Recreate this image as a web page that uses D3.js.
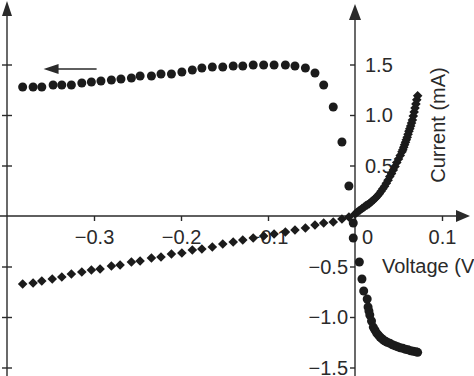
<!DOCTYPE html>
<meta charset="utf-8">
<style>
  body { margin: 0; background: #fff; }
  svg { display: block; font-family: "Liberation Sans", Arial, sans-serif; }
</style>
<div id="container"></div>
<script src="https://cdn.jsdelivr.net/npm/d3@7"></script>
<script>

// circles: voltage (V) and current (mA)
const dotV = [-0.382, -0.370, -0.360, -0.347, -0.337, -0.326, -0.314, -0.303, -0.292, -0.280,
              -0.269, -0.257, -0.247, -0.234, -0.223, -0.211, -0.199, -0.187, -0.176, -0.164,
              -0.152, -0.140, -0.129, -0.117, -0.105, -0.093, -0.080, -0.069, -0.057, -0.046,
              -0.036, -0.025, -0.015, -0.007, -0.002, -0.002, 0.005, 0.008, 0.010, 0.014,
              0.015, 0.016, 0.017, 0.019, 0.021, 0.023, 0.025, 0.027, 0.029, 0.031,
              0.033, 0.035, 0.037, 0.040, 0.043, 0.046, 0.049, 0.052, 0.055, 0.058,
              0.061, 0.064, 0.067, 0.070, 0.072];
const dotI = [1.277, 1.277, 1.277, 1.297, 1.297, 1.297, 1.317, 1.327, 1.337, 1.347,
              1.356, 1.366, 1.386, 1.386, 1.406, 1.406, 1.426, 1.446, 1.465, 1.475,
              1.475, 1.485, 1.485, 1.495, 1.495, 1.495, 1.495, 1.485, 1.465, 1.416,
              1.297, 1.079, 0.733, 0.297, -0.069, -0.218, -0.455, -0.624, -0.743, -0.822,
              -0.90, -0.94, -0.98, -1.04, -1.10, -1.13, -1.16, -1.18, -1.20, -1.215,
              -1.23, -1.24, -1.25, -1.26, -1.275, -1.285, -1.295, -1.305, -1.31, -1.32,
              -1.325, -1.335, -1.34, -1.345, -1.35];

// diamonds
const diaV = [-0.382, -0.370, -0.360, -0.348, -0.337, -0.326, -0.314, -0.303, -0.293, -0.280,
              -0.270, -0.257, -0.247, -0.234, -0.223, -0.211, -0.199, -0.187, -0.176, -0.164,
              -0.152, -0.140, -0.129, -0.117, -0.105, -0.093, -0.080, -0.069, -0.057, -0.046,
              -0.036, -0.025, -0.015, -0.007,
              0.000, 0.002, 0.004, 0.006, 0.008, 0.010, 0.012, 0.014, 0.016, 0.018,
              0.020, 0.022, 0.024, 0.026, 0.028, 0.030, 0.032, 0.034, 0.036, 0.038,
              0.040, 0.042, 0.044, 0.046, 0.048, 0.050, 0.052, 0.054, 0.055, 0.056, 0.057, 0.058,
              0.059, 0.060, 0.061, 0.062, 0.063, 0.064, 0.065, 0.066, 0.067, 0.068, 0.069, 0.070, 0.071, 0.072];
const diaI = [-0.673, -0.663, -0.644, -0.624, -0.604, -0.574, -0.554, -0.535, -0.525, -0.495,
              -0.485, -0.455, -0.446, -0.416, -0.406, -0.376, -0.366, -0.337, -0.327, -0.307,
              -0.277, -0.257, -0.238, -0.218, -0.198, -0.178, -0.158, -0.139, -0.119, -0.089,
              -0.069, -0.059, -0.030, -0.010,
              0.02, 0.035, 0.05, 0.06, 0.075, 0.085, 0.10, 0.11, 0.12, 0.135,
              0.15, 0.165, 0.18, 0.20, 0.22, 0.245, 0.27, 0.295, 0.325, 0.355,
              0.39, 0.42, 0.455, 0.49, 0.53, 0.565, 0.60, 0.635, 0.655, 0.68, 0.705, 0.73,
              0.755, 0.78, 0.81, 0.84, 0.865, 0.89, 0.92, 0.95, 0.99, 1.03, 1.07, 1.11, 1.15, 1.19];

const xTicks = [-0.3, -0.2, -0.1, 0, 0.1];
const yTicks = [-1.5, -1.0, -0.5, 0.5, 1.0, 1.5];

const width = 474, height = 376;
const ink = '#2a2a2a', markInk = '#1b1b1b';
const fs = 20;

const x = d3.scaleLinear().domain([-0.4, 0.1]).range([7, 442]);
const y = d3.scaleLinear().domain([-1.5, 1.5]).range([367.5, 64.5]);
const x0 = x(0), y0 = y(0), xl = x(-0.4);

const fmt = d => d === 0 ? '0' : (d < 0 ? '\u2212' : '') + d3.format('.1f')(Math.abs(d));

const svg = d3.create('svg')
    .attr('width', width)
    .attr('height', height);

// axis lines + arrow heads
const axes = svg.append('g').attr('stroke', ink).attr('stroke-width', 1.4).attr('fill', 'none');
axes.append('line').attr('x1', 0).attr('x2', 458).attr('y1', y0).attr('y2', y0);
axes.append('line').attr('x1', x0).attr('x2', x0).attr('y1', 18).attr('y2', height);
axes.append('line').attr('x1', xl).attr('x2', xl).attr('y1', 14).attr('y2', height);

const heads = svg.append('g').attr('fill', ink);
heads.append('path').attr('d', `M470,${y0}L456,${y0 - 6}L456,${y0 + 6}Z`);
heads.append('path').attr('d', `M${x0},4L${x0 - 6},20L${x0 + 6},20Z`);
heads.append('path').attr('d', `M${xl},1L${xl - 5},16L${xl + 5},16Z`);

// x ticks
const gx = svg.append('g')
    .attr('transform', `translate(0,${y0})`)
    .call(d3.axisBottom(x).tickValues(xTicks).tickSize(5).tickPadding(9).tickFormat(fmt));
gx.select('.domain').remove();
gx.selectAll('line').attr('stroke', ink).attr('stroke-width', 1.4);
gx.selectAll('text').attr('fill', ink).attr('font-size', fs).attr('font-family', null)
    .filter(d => d === 0).attr('dx', 12);

// right (main) y axis ticks
const gy = svg.append('g')
    .attr('transform', `translate(${x0},0)`)
    .call(d3.axisLeft(y).tickValues(yTicks).tickSize(5).tickFormat(''));
gy.select('.domain').remove();
gy.selectAll('line').attr('stroke', ink).attr('stroke-width', 1.4);

svg.append('g').selectAll('text').data(yTicks).join('text')
    .attr('x', d => d > 0 ? x0 + 10 : x0 - 7)
    .attr('y', d => y(d))
    .attr('dy', '0.36em')
    .attr('text-anchor', d => d > 0 ? 'start' : 'end')
    .attr('font-size', fs)
    .attr('fill', ink)
    .text(fmt);

// left y axis: crossing ticks, no labels
[d3.axisLeft, d3.axisRight].forEach(ax => {
  const g = svg.append('g')
      .attr('transform', `translate(${xl},0)`)
      .call(ax(y).tickValues(yTicks).tickSize(5).tickFormat(''));
  g.select('.domain').remove();
  g.selectAll('line').attr('stroke', ink).attr('stroke-width', 1.4);
});

// axis titles
svg.append('text')
    .attr('transform', `translate(445,125) rotate(-90)`)
    .attr('text-anchor', 'middle')
    .attr('font-size', fs)
    .attr('fill', ink)
    .text('Current (mA)');

svg.append('text')
    .attr('x', 382).attr('y', 273)
    .attr('font-size', fs)
    .attr('fill', ink)
    .text('Voltage (V)');

// arrow pointing to the left axis
const ax1 = x(-0.358), ay = y(1.455);
svg.append('line')
    .attr('x1', ax1 + 12).attr('x2', x(-0.297))
    .attr('y1', ay).attr('y2', ay)
    .attr('stroke', ink).attr('stroke-width', 1.5);
svg.append('path')
    .attr('d', `M${ax1},${ay}L${ax1 + 15},${ay - 5}L${ax1 + 15},${ay + 5}Z`)
    .attr('fill', ink);

// diamonds
const diamonds = d3.range(diaV.length).map(i => ({ v: diaV[i], i: diaI[i] }));
svg.append('g').selectAll('path').data(diamonds).join('path')
    .attr('d', d3.symbol(d3.symbolSquare, 46))
    .attr('transform', d => `translate(${x(d.v)},${y(d.i)}) rotate(45)`)
    .attr('fill', markInk);

// circles
const dots = d3.range(dotV.length).map(i => ({ v: dotV[i], i: dotI[i] }));
svg.append('g').selectAll('circle').data(dots).join('circle')
    .attr('cx', d => x(d.v))
    .attr('cy', d => y(d.i))
    .attr('r', 4.5)
    .attr('fill', markInk);

container.append(svg.node());

</script>
